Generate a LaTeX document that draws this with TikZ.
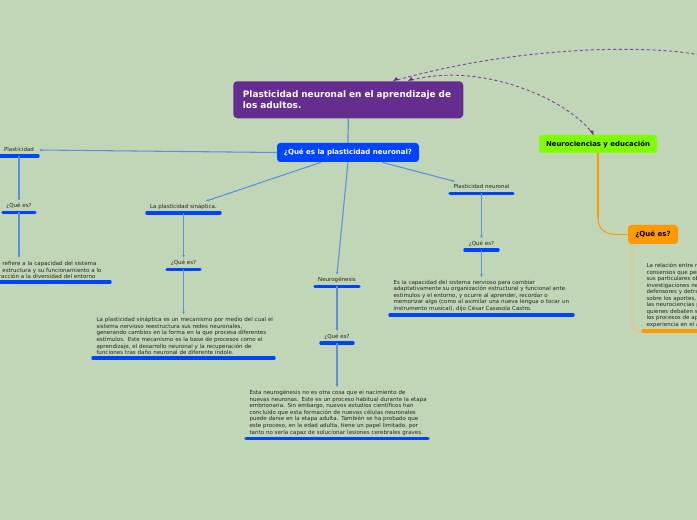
\documentclass[tikz,border=0pt]{standalone}
\usepackage{fontspec}
\setmainfont{DejaVu Sans}
\usetikzlibrary{arrows.meta}
\definecolor{fondo}{HTML}{C1D5B7}
\definecolor{morado}{HTML}{662D91}
\definecolor{azul}{HTML}{0044FF}
\definecolor{enlace}{HTML}{5B8FE0}
\definecolor{verde}{HTML}{7FFF00}
\definecolor{naranja}{HTML}{FF9900}
\definecolor{palido}{HTML}{F0C474}
\tikzset{
  tema/.style={font=\fontsize{4.15}{4.9}\selectfont, anchor=south, inner xsep=0pt, inner ysep=2.3pt, text height=3pt, text depth=1pt, text=black!85},
  texto/.style={font=\fontsize{4.15}{4.9}\selectfont, anchor=south, inner xsep=3.4pt, inner ysep=2.3pt, align=left, text width=#1, text=black!85},
  barra/.style={azul, line width=2.3pt, line cap=round, shorten >=0.8pt, shorten <=0.8pt},
  enlaceazul/.style={enlace, line width=0.8pt, -{Stealth[length=2pt,width=2pt]}},
  punteada/.style={morado!85, line width=0.7pt, dash pattern=on 2.4pt off 1.8pt}
}
\begin{document}
\begin{tikzpicture}[x=0.75pt,y=-0.75pt]
  \fill[fondo] (0,0) rectangle (697,520);
  \useasboundingbox (0,0) rectangle (697,520);

  % cajas principales
  \node[fill=morado, rounded corners=3pt, text=white, anchor=north west, minimum width=172.5pt, minimum height=27.75pt, inner xsep=7.2pt, inner ysep=0pt, align=left, text width=158pt, font=\fontsize{6.7}{8.4}\selectfont\bfseries] (raiz) at (233,81) {Plasticidad neuronal en el aprendizaje de\\los adultos.};
  \node[fill=azul, rounded corners=2.5pt, text=white, minimum width=106.5pt, minimum height=14.25pt, inner sep=0pt, font=\fontsize{5.25}{6}\selectfont\bfseries] (pq) at (348,152.5) {¿Qué es la plasticidad neuronal?};
  \node[fill=verde, rounded corners=2.5pt, text=black, minimum width=88.5pt, minimum height=13.5pt, inner sep=0pt, font=\fontsize{5.2}{6}\selectfont\bfseries] (educa) at (598,144) {Neurociencias y educación};
  \node[fill=naranja, rounded corners=2.5pt, text=black, minimum width=37.5pt, minimum height=14.25pt, inner sep=0pt, font=\fontsize{5.3}{6}\selectfont\bfseries] (qed) at (653,234.5) {¿Qué es?};

  % rama izquierda
  \node[tema, minimum width=30pt] (plast) at (19,156) {Plasticidad};
  \node[tema, minimum width=25.5pt] (qplast) at (19,212.5) {¿Qué es?};
  \node[texto=131.2pt, align=right] (tplast) at (19,282) {e refiere a la capacidad del sistema\hspace*{7.5pt}\mbox{}\\a estructura y su funcionamiento a lo\hspace*{3.75pt}\mbox{}\\racción a la diversidad del entorno\hspace*{8.25pt}\mbox{}};
  \node[tema, minimum width=56.25pt] (sin) at (183.5,213) {La plasticidad sináptica.};
  \node[tema, minimum width=26.25pt] (qsin) at (183.5,269.5) {¿Qué es?};
  \node[texto=130.45pt] (tsin) at (183.5,358) {\mbox{La plasticidad sináptica es un mecanismo por medio del cual el}\\sistema nervioso reestructura sus redes neuronales,\\generando cambios en la forma en la que procesa diferentes\\estímulos. Este mecanismo es la base de procesos como el\\aprendizaje, el desarrollo neuronal y la recuperación de\\funciones tras daño neuronal de diferente índole.};

  % rama central
  \node[tema, minimum width=34.5pt] (neuro) at (337,286.5) {Neurogénesis};
  \node[tema, minimum width=25.5pt] (qneuro) at (337,343) {¿Qué es?};
  \node[texto=131.2pt] (tneuro) at (337,438.5) {Esta neurogénesis no es otra cosa que el nacimiento de\\\mbox{nuevas neuronas. Este es un proceso habitual durante la etapa}\\embrionaria. Sin embargo, nuevos estudios científicos han\\concluido que esta formación de nuevas células neuronales\\puede darse en la etapa adulta. También se ha probado que\\este proceso, en la edad adulta, tiene un papel limitado, por\\tanto no sería capaz de solucionar lesiones cerebrales graves.};

  % rama derecha
  \node[tema, minimum width=48.75pt] (pn) at (481.5,193.5) {Plasticidad neuronal};
  \node[tema, minimum width=26.25pt] (qpn) at (481.5,250) {¿Qué es?};
  \node[texto=131.95pt] (tpn) at (481.5,315) {Es la capacidad del sistema nervioso para cambiar\\\mbox{adaptativamente su organización estructural y funcional ante}\\estímulos y el entorno, y ocurre al aprender, recordar o\\\mbox{memorizar algo (como al asimilar una nueva lengua o tocar un}\\instrumento musical), dijo César Casasola Castro.};

  % texto cortado por el borde
  \node[texto=131.2pt] (ted) at (734,331) {La relación entre n\\consensos que per\\sus particulares ob\\investigaciones ne\\defensores y detra\\sobre los aportes,\\las neurociencias p\\quienes debaten s\\los procesos de ap\\experiencia en el a};

  % barras
  \foreach \n in {plast,qplast,sin,qsin,neuro,qneuro,pn,qpn,tplast,tsin,tneuro,tpn}
    \draw[barra] (\n.south west) -- (\n.south east);
  \draw[barra, naranja] (ted.south west) -- (ted.south east);

  % conectores
  \draw[enlace, line width=0.9pt] (raiz.south) -- (pq.north);
  \draw[enlaceazul] (pq.west) -- (plast.east);
  \draw[enlaceazul] (pq.200) -- ([xshift=17pt]sin.north);
  \draw[enlaceazul] (pq.south) -- (neuro.north);
  \draw[enlaceazul] (pq.-16.5) -- ([xshift=-20pt]pn.north);
  \draw[enlaceazul] (plast.south) -- (qplast.north);
  \draw[enlaceazul] (qplast.south) -- (tplast.north);
  \draw[enlaceazul] (sin.south) -- (qsin.north);
  \draw[enlaceazul] (qsin.south) -- (tsin.north);
  \draw[enlaceazul] (neuro.south) -- (qneuro.north);
  \draw[enlaceazul] (qneuro.south) -- (tneuro.north);
  \draw[enlaceazul] (pn.south) -- (qpn.north);
  \draw[enlaceazul] (qpn.south) -- (tpn.north);

  \coordinate (giro) at (598,218);
  \draw[naranja, line width=1.9pt] (educa.south) -- (giro);
  \draw[naranja, line width=0.7pt] (giro) .. controls (598,229) and (605,234.5) .. (618,234.5) -- (qed.west);
  \draw[palido, line width=1pt] ([xshift=-15.75pt]qed.south) -- (632,323) .. controls (632,329) and (635,331) .. (ted.south west);

  \coordinate (fuera) at (700,55);
  \draw[punteada] ([xshift=-3.5pt]educa.north) .. controls (570,100) and (480,60) .. ([xshift=45pt]raiz.north);
  \draw[punteada] (fuera) .. controls (650,45) and (520,45) .. ([xshift=33.75pt]raiz.north);
  \fill[morado] ([xshift=-3.5pt]educa.north) -- ++(-4,-4) -- ++(4,0) -- cycle;
  \fill[morado] ([xshift=45pt]raiz.north) -- ++(5,-1) -- ++(-2,-3) -- cycle;
  \fill[morado] ([xshift=33.75pt]raiz.north) -- ++(5,-1) -- ++(-2,-3) -- cycle;
\end{tikzpicture}
\end{document}
